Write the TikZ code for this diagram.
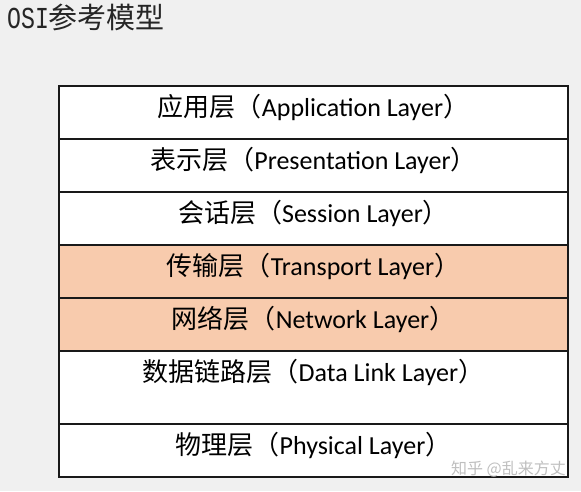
\documentclass[tikz,border=0pt]{standalone}
\usepackage{graphicx}
\usepackage{fontspec}
\setmainfont{Carlito}
\newfontfamily\cjk{Noto Sans CJK SC}
\newfontfamily\osimono{Liberation Mono}
\usetikzlibrary{positioning}
\definecolor{pagegray}{HTML}{F0F0F0}
\definecolor{layerorange}{HTML}{F8CBAD}
\newcommand\layername[2]{{\cjk #1（}#2{\cjk ）}}

\begin{document}
\begin{tikzpicture}[x=1pt,y=1pt,
    layer/.style={draw=black!90, line width=1.3pt, fill=white,
        minimum width=509pt, minimum height=53pt, inner sep=0pt, outer sep=0pt},
    hot/.style={fill=layerorange},
    tall/.style={minimum height=73pt},
    layertext/.style={anchor=base, inner sep=0pt, font=\fontsize{26}{30}\selectfont}]
    \fill[pagegray] (0,0) rectangle (581,-491);
    \useasboundingbox (0,0) rectangle (581,-491);
    \node[anchor=base west, inner sep=0pt, text=black!85] (title) at (7,-28)
        {\fontsize{29}{33}\selectfont\scalebox{0.8}[1.05]{\osimono OSI}\cjk 参考模型};
    % the seven layers, top to bottom
    \node[layer, anchor=north west] (app) at (59,-86) {};
    \node[layer, below=0pt of app] (pres) {};
    \node[layer, below=0pt of pres] (sess) {};
    \node[layer, hot, below=0pt of sess] (trans) {};
    \node[layer, hot, below=0pt of trans] (net) {};
    \node[layer, tall, below=0pt of net] (link) {};
    \node[layer, below=0pt of link] (phys) {};
    \node[layertext] (appT) at ([yshift=-30pt]app.north) {\layername{应用层}{Application Layer}};
    \node[layertext] (presT) at ([yshift=-30pt]pres.north) {\layername{表示层}{Presentation Layer}};
    \node[layertext] (sessT) at ([yshift=-30pt]sess.north) {\layername{会话层}{Session Layer}};
    \node[layertext] (transT) at ([yshift=-30pt]trans.north) {\layername{传输层}{Transport Layer}};
    \node[layertext] (netT) at ([yshift=-30pt]net.north) {\layername{网络层}{Network Layer}};
    \node[layertext] (linkT) at ([yshift=-30pt]link.north) {\layername{数据链路层}{Data Link Layer}};
    \node[layertext] (physT) at ([yshift=-30pt]phys.north) {\layername{物理层}{Physical Layer}};
    \node[anchor=base east, inner sep=0pt, text=black!25, font=\cjk\fontsize{16}{18}\selectfont]
        (mark) at (566,-474) {知乎 @乱来方丈};
\end{tikzpicture}
\end{document}
